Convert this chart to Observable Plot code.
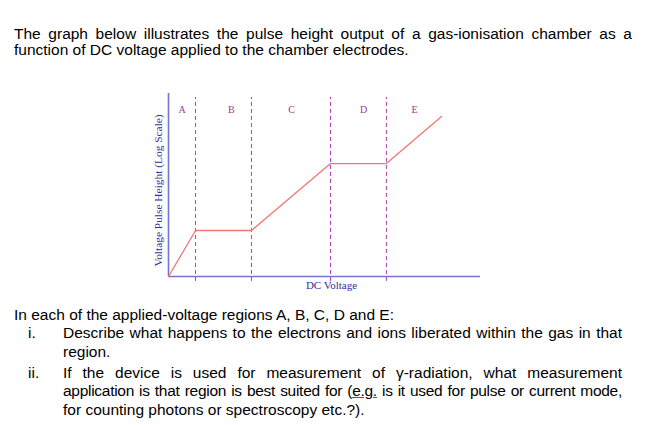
<!DOCTYPE html>
<html>
<head>
<meta charset="utf-8">
<script src="https://cdn.jsdelivr.net/npm/d3@7"></script>
<script src="https://cdn.jsdelivr.net/npm/@observablehq/plot@0.6"></script>
<style>
  html, body { margin: 0; padding: 0; background: #fff; }
  body { width: 646px; height: 425px; position: relative; overflow: hidden;
         font-family: "Liberation Sans", Arial, sans-serif; color: #000; }
  .p { position: absolute; font-size: 15.5px; }
  .ln { white-space: nowrap; }
  .j { text-align: justify; text-align-last: justify; }
  #top { left: 14px; top: 25.6px; width: 618px; line-height: 16px; }
  #bottom { left: 14px; top: 305.5px; width: 608px; line-height: 18.5px; }
  .item { position: relative; padding-left: 49px; }
  .item .num { position: absolute; left: 14px; top: 0; }
  .item.ii { margin-top: 2.5px; }
  .tight { letter-spacing: -0.28px; }
  .eg { text-decoration: underline; text-decoration-color: #3355cc; }
  #chart { position: absolute; left: 0; top: 70px; }
</style>
</head>
<body>
<div class="p" id="top">
  <div class="ln j">The graph below illustrates the pulse height output of a gas-ionisation chamber as a</div>
  <div class="ln">function of DC voltage applied to the chamber electrodes.</div>
</div>
<div id="chart"></div>
<div class="p" id="bottom">
  <div class="ln">In each of the applied-voltage regions A, B, C, D and E:</div>
  <div class="item"><span class="num">i.</span>
    <div class="ln j">Describe what happens to the electrons and ions liberated within the gas in that</div>
    <div class="ln">region.</div>
  </div>
  <div class="item ii"><span class="num">ii.</span>
    <div class="ln j">If the device is used for measurement of γ-radiation, what measurement</div>
    <div class="ln j tight">application is that region is best suited for (<span class="eg">e.g.</span> is it used for pulse or current mode,</div>
    <div class="ln">for counting photons or spectroscopy etc.?).</div>
  </div>
</div>
<script>
// DC voltage (arbitrary units) and log10 pulse height (arbitrary units)
const curveVoltage = [0, 1.04, 3.19, 6.23, 8.38, 10.5];
const curveLogPulse = [0, 1.76, 1.76, 4.32, 4.32, 6.12];
// region boundaries (voltage)
const boundaries = [1.04, 3.19, 6.23, 8.38];
// region labels and their voltage positions
const regionNames = ["A", "B", "C", "D", "E"];
const regionLabelX = [0.52, 2.42, 4.73, 7.5, 9.46];
const regionLabelY = 6.39;
// axis extents
const xMax = 12;
const yMax = 7;

const curve = curveVoltage.map((v, i) => ({x: v, y: curveLogPulse[i]}));
const labels = regionNames.map((n, i) => ({name: n, x: regionLabelX[i], y: regionLabelY}));

const serif = "'Liberation Serif', 'DejaVu Serif', serif";
const axisColor = "#7474d4";
const textBlue = "#30309c";

const chart = Plot.plot({
  width: 646,
  height: 225,
  x: {domain: [0, xMax], range: [168, 480], axis: null},
  y: {domain: [0, yMax], range: [206, 23], axis: null},
  style: {fontFamily: serif, background: "transparent", overflow: "visible"},
  marks: [
    Plot.ruleX(boundaries, {x: d => d, y1: -0.19, y2: 6.85, stroke: "#b43cb4", strokeWidth: 1, strokeDasharray: "4,3"}),
    Plot.ruleY([0], {x1: 0, x2: xMax, stroke: axisColor, strokeWidth: 1.6}),
    Plot.ruleX([0], {y1: 0, y2: yMax, stroke: axisColor, strokeWidth: 1.6}),
    Plot.line(curve, {x: "x", y: "y", stroke: "#f27676", strokeWidth: 1.3}),
    Plot.text(labels, {x: "x", y: "y", text: "name", fill: "#9a3a9a", fontSize: 10}),
    Plot.text(["DC Voltage"], {x: 6.27, y: -0.34, text: d => d, fill: textBlue, fontSize: 11}),
    Plot.text(["Voltage Pulse Height (Log Scale)"], {x: -0.38, y: 3.29, text: d => d, rotate: -90, fill: textBlue, fontSize: 11.4})
  ]
});
document.getElementById("chart").appendChild(chart);
</script>
</body>
</html>
